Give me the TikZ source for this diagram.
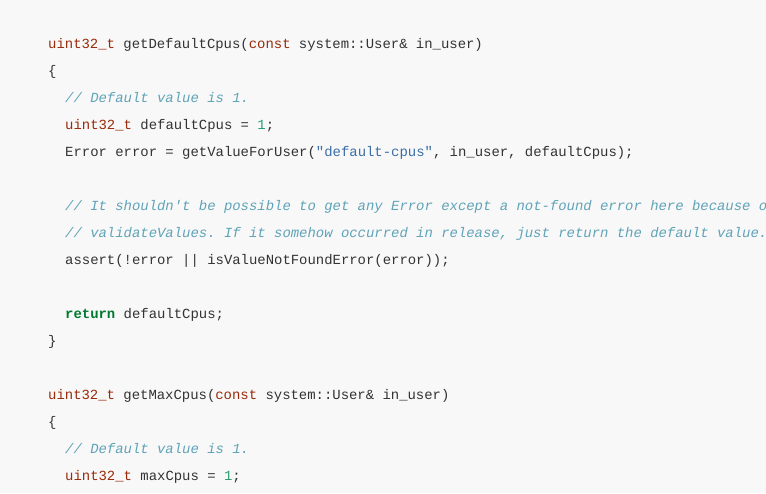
\documentclass[tikz,border=0pt]{standalone}
\usepackage{fontspec}
\setmonofont{Liberation Mono}
\definecolor{bg}{HTML}{F8F8F8}
\definecolor{tx}{HTML}{333333}
\definecolor{ty}{HTML}{9A2A0A}
\definecolor{cm}{HTML}{5FA3B8}
\definecolor{nm}{HTML}{2A9D6F}
\definecolor{st}{HTML}{3B6EA5}
\definecolor{kw}{HTML}{007A2F}
\newcommand{\ty}[1]{\textcolor{ty}{#1}}
\newcommand{\cmt}[1]{\textcolor{cm}{\itshape #1}}
\newcommand{\nm}[1]{\textcolor{nm}{#1}}
\newcommand{\str}[1]{\textcolor{st}{#1}}
\newcommand{\kw}[1]{\textcolor{kw}{\bfseries #1}}
\begin{document}
\begin{tikzpicture}[x=1pt,y=-1pt,
  code/.style={anchor=base west,inner sep=0pt,text=tx,font=\ttfamily\fontsize{13.93}{16}\selectfont}]
\fill[bg] (0,0) rectangle (766,493);
\clip (0,0) rectangle (766,493);
\useasboundingbox (0,0) rectangle (766,493);
\node[code] (l1) at (48,48) {\ty{uint32\_t} getDefaultCpus(\ty{const} system::User\& in\_user)};
\node[code] (l2) at (48,75) {\{};
\node[code] (l3) at (65,102) {\cmt{// Default value is 1.}};
\node[code] (l4) at (65,129) {\ty{uint32\_t} defaultCpus = \nm{1};};
\node[code] (l5) at (65,156) {Error error = getValueForUser(\str{"default-cpus"}, in\_user, defaultCpus);};
\node[code] (l6) at (65,210) {\cmt{// It shouldn't be possible to get any Error except a not-found error here because of}};
\node[code] (l7) at (65,237) {\cmt{// validateValues. If it somehow occurred in release, just return the default value.}};
\node[code] (l8) at (65,264) {assert(!error || isValueNotFoundError(error));};
\node[code] (l9) at (65,318) {\kw{return} defaultCpus;};
\node[code] (l10) at (48,345) {\}};
\node[code] (l11) at (48,399) {\ty{uint32\_t} getMaxCpus(\ty{const} system::User\& in\_user)};
\node[code] (l12) at (48,426) {\{};
\node[code] (l13) at (65,453) {\cmt{// Default value is 1.}};
\node[code] (l14) at (65,480) {\ty{uint32\_t} maxCpus = \nm{1};};
\end{tikzpicture}
\end{document}
